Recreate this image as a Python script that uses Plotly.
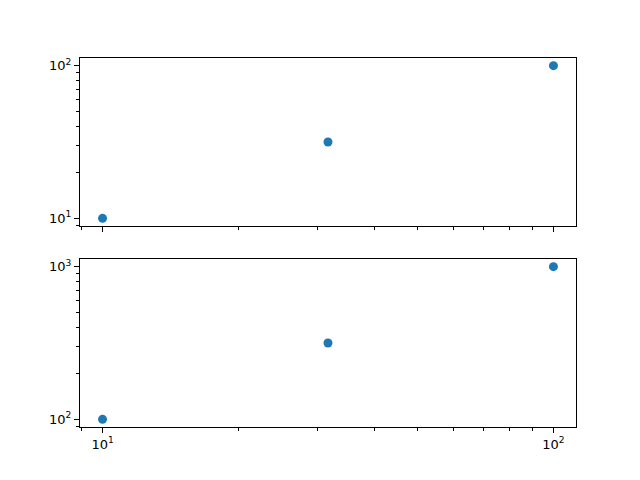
import plotly.graph_objects as go
from plotly.subplots import make_subplots

x = [10, 31.62, 100]
y_top = [10, 31.62, 100]
y_bottom = [100, 316.2, 1000]

x_ticks = [10, 100]
x_labels = ["10<sup>1</sup>", "10<sup>2</sup>"]
x_minor = [9, 20, 30, 40, 50, 60, 70, 80, 90]
y_top_ticks = [10, 100]
y_top_labels = ["10<sup>1</sup>", "10<sup>2</sup>"]
y_top_minor = [9, 20, 30, 40, 50, 60, 70, 80, 90]
y_bottom_ticks = [100, 1000]
y_bottom_labels = ["10<sup>2</sup>", "10<sup>3</sup>"]
y_bottom_minor = [90, 200, 300, 400, 500, 600, 700, 800, 900]

fig = make_subplots(rows=2, cols=1, shared_xaxes=True, vertical_spacing=0.0894)

marker = dict(color="#1f77b4", size=9)
fig.add_trace(go.Scatter(x=x, y=y_top, mode="markers", marker=marker), row=1, col=1)
fig.add_trace(go.Scatter(x=x, y=y_bottom, mode="markers", marker=marker), row=2, col=1)

axis_style = dict(
    type="log", showgrid=False, zeroline=False,
    showline=True, linecolor="black", linewidth=1, mirror=True,
    ticks="outside", ticklen=5, tickcolor="black",
    tickfont=dict(family="DejaVu Sans", size=13, color="black"),
)
minor_style = dict(ticks="outside", ticklen=3, tickcolor="black", showgrid=False, tickmode="array")

fig.update_xaxes(axis_style, range=[0.95, 2.05], tickvals=x_ticks, ticktext=x_labels,
                 minor=dict(minor_style, tickvals=x_minor))
fig.update_xaxes(showticklabels=False, row=1, col=1)
fig.update_yaxes(axis_style)
fig.update_yaxes(range=[0.95, 2.05], tickvals=y_top_ticks, ticktext=y_top_labels,
                 minor=dict(minor_style, tickvals=y_top_minor), row=1, col=1)
fig.update_yaxes(range=[1.95, 3.05], tickvals=y_bottom_ticks, ticktext=y_bottom_labels,
                 minor=dict(minor_style, tickvals=y_bottom_minor), row=2, col=1)

fig.update_layout(
    width=640, height=480,
    margin=dict(l=72, r=72, t=50, b=61),
    plot_bgcolor="white", paper_bgcolor="white",
    showlegend=False,
)

fig.write_html("out.html")
